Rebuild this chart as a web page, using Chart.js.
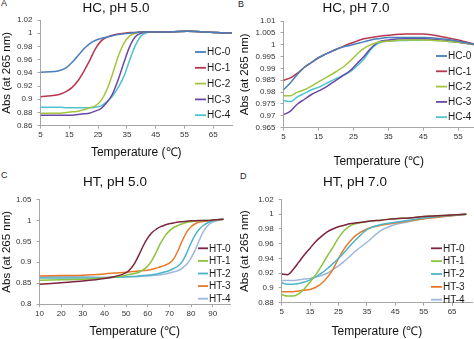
<!DOCTYPE html>
<html>
<head>
<meta charset="utf-8">
<script src="https://cdn.jsdelivr.net/npm/chart.js@4.4.1/dist/chart.umd.min.js"></script>
<style>
  html, body { margin: 0; padding: 0; background: #fff; }
  body { position: relative; width: 474px; height: 339px; overflow: hidden; font-family: "Liberation Sans", Arial, sans-serif; }
  canvas { position: absolute; }
  .tag { position: absolute; font-size: 9px; color: #222; }
</style>
</head>
<body>
<div class="tag" style="left:1px;top:-2px">A</div>
<div class="tag" style="left:238px;top:-1px">B</div>
<div class="tag" style="left:1px;top:170px">C</div>
<div class="tag" style="left:240px;top:171px">D</div>
<canvas id="chartA" width="244" height="170" style="left:0px;top:0px"></canvas>
<canvas id="chartB" width="242" height="170" style="left:238px;top:0px"></canvas>
<canvas id="chartC" width="244" height="169" style="left:0px;top:170px"></canvas>
<canvas id="chartD" width="245" height="169" style="left:238px;top:170px"></canvas>
<script>
// ---- data ----
const hcLabels = ["HC-0", "HC-1", "HC-2", "HC-3", "HC-4"];
const htLabels = ["HT-0", "HT-1", "HT-2", "HT-3", "HT-4"];
const hcColors = ["#4a7ebb", "#b8364d", "#a4c43c", "#6a48a8", "#4ec3cf"];
const htColors = ["#7d2440", "#8cc43e", "#4bb4c6", "#e8792a", "#9db8dc"];

// A: HC, pH 5.0
const tempsA = [5, 10, 12, 14, 16, 18, 20, 22, 24, 26, 28, 30, 32, 34, 36, 38, 40, 42, 44, 50, 56, 62, 66, 72];
const hc0A = [0.941, 0.942, 0.944, 0.948, 0.956, 0.966, 0.976, 0.984, 0.989, 0.992, 0.994, 0.996, 0.998, 0.999, 1.0, 1.001, 1.002, 1.002, 1.002, 1.002, 1.003, 1.002, 1.001, 1.0];
const hc1A = [0.904, 0.906, 0.908, 0.912, 0.918, 0.928, 0.942, 0.958, 0.976, 0.988, 0.994, 0.997, 0.999, 1.0, 1.001, 1.001, 1.002, 1.002, 1.002, 1.002, 1.003, 1.002, 1.001, 1.0];
const hc2A = [0.879, 0.879, 0.879, 0.880, 0.881, 0.882, 0.884, 0.887, 0.890, 0.898, 0.914, 0.938, 0.965, 0.985, 0.996, 1.0, 1.002, 1.002, 1.002, 1.002, 1.003, 1.002, 1.001, 1.0];
const hc3A = [0.876, 0.876, 0.876, 0.876, 0.876, 0.877, 0.878, 0.879, 0.882, 0.886, 0.895, 0.908, 0.930, 0.956, 0.980, 0.995, 1.0, 1.002, 1.002, 1.002, 1.003, 1.002, 1.001, 1.0];
const hc4A = [0.888, 0.888, 0.888, 0.887, 0.887, 0.887, 0.887, 0.887, 0.888, 0.890, 0.896, 0.905, 0.918, 0.935, 0.960, 0.982, 0.996, 1.001, 1.002, 1.002, 1.003, 1.002, 1.001, 1.0];
const xTicksA = [5, 15, 25, 35, 45, 55, 65];
const yTicksA = [0.86, 0.88, 0.9, 0.92, 0.94, 0.96, 0.98, 1, 1.02];

// B: HC, pH 7.0
const tempsB = [5, 7, 9, 11, 13, 15, 17, 20, 22, 24, 26, 28, 30, 32, 35, 40, 45, 50, 55, 60];
const hc0B = [0.981, 0.984, 0.9875, 0.9905, 0.9925, 0.9945, 0.996, 0.998, 0.999, 0.9997, 1.0005, 1.0012, 1.002, 1.0025, 1.003, 1.003, 1.003, 1.0025, 1.0015, 1.0];
const hc1B = [0.985, 0.986, 0.988, 0.9905, 0.9925, 0.9945, 0.996, 0.998, 0.9992, 1.0005, 1.0015, 1.0025, 1.003, 1.0035, 1.004, 1.0045, 1.0045, 1.0035, 1.002, 1.0];
const hc2B = [0.9785, 0.9785, 0.98, 0.981, 0.9825, 0.9843, 0.986, 0.9886, 0.9905, 0.993, 0.996, 0.9985, 1.0, 1.001, 1.0015, 1.002, 1.002, 1.0017, 1.001, 1.0];
const hc3B = [0.9705, 0.972, 0.975, 0.977, 0.979, 0.9805, 0.982, 0.985, 0.987, 0.989, 0.992, 0.995, 0.9985, 1.001, 1.002, 1.0025, 1.0025, 1.002, 1.001, 1.0];
const hc4B = [0.9765, 0.976, 0.978, 0.9795, 0.981, 0.982, 0.9835, 0.9857, 0.987, 0.9885, 0.991, 0.994, 0.998, 1.0005, 1.0015, 1.0018, 1.002, 1.0017, 1.001, 1.0];
const xTicksB = [5, 15, 25, 35, 45, 55];
const yTicksB = [0.965, 0.97, 0.975, 0.98, 0.985, 0.99, 0.995, 1, 1.005, 1.01];

// C: HT, pH 5.0
const tempsC = [10, 20, 30, 40, 45, 50, 52, 54, 56, 58, 60, 62, 64, 66, 68, 70, 72, 74, 76, 78, 80, 82, 84, 86, 88, 90, 95];
const ht0C = [0.847, 0.851, 0.855, 0.861, 0.866, 0.875, 0.884, 0.898, 0.918, 0.940, 0.958, 0.971, 0.979, 0.985, 0.989, 0.992, 0.994, 0.996, 0.997, 0.998, 0.999, 0.999, 1.0, 1.0, 1.0, 1.001, 1.003];
const ht1C = [0.857, 0.858, 0.859, 0.862, 0.865, 0.869, 0.871, 0.873, 0.876, 0.882, 0.891, 0.905, 0.925, 0.946, 0.963, 0.975, 0.983, 0.988, 0.992, 0.995, 0.997, 0.998, 0.999, 1.0, 1.0, 1.001, 1.003];
const ht2C = [0.862, 0.862, 0.862, 0.863, 0.864, 0.865, 0.866, 0.866, 0.867, 0.868, 0.869, 0.870, 0.872, 0.874, 0.877, 0.880, 0.885, 0.891, 0.902, 0.922, 0.946, 0.966, 0.980, 0.989, 0.995, 0.999, 1.003];
const ht3C = [0.867, 0.868, 0.869, 0.872, 0.874, 0.876, 0.877, 0.878, 0.879, 0.880, 0.881, 0.883, 0.886, 0.889, 0.893, 0.898, 0.908, 0.928, 0.952, 0.972, 0.985, 0.992, 0.996, 0.998, 0.999, 1.0, 1.003];
const ht4C = [0.865, 0.865, 0.865, 0.864, 0.865, 0.865, 0.865, 0.866, 0.866, 0.867, 0.867, 0.868, 0.869, 0.870, 0.872, 0.874, 0.877, 0.880, 0.886, 0.895, 0.910, 0.930, 0.955, 0.976, 0.989, 0.996, 1.003];
const xTicksC = [10, 20, 30, 40, 50, 60, 70, 80, 90];
const yTicksC = [0.8, 0.85, 0.9, 0.95, 1, 1.05];

// D: HT, pH 7.0
const tempsD = [5, 7, 9, 11, 13, 15, 17, 19, 21, 23, 25, 27, 29, 31, 35, 40, 45, 50, 55, 60, 70];
const ht0D = [0.919, 0.918, 0.925, 0.935, 0.945, 0.954, 0.963, 0.970, 0.976, 0.980, 0.983, 0.985, 0.987, 0.988, 0.990, 0.992, 0.994, 0.995, 0.997, 0.998, 1.0];
const ht1D = [0.891, 0.889, 0.889, 0.892, 0.899, 0.908, 0.918, 0.930, 0.943, 0.955, 0.968, 0.978, 0.984, 0.987, 0.990, 0.992, 0.994, 0.995, 0.997, 0.998, 1.0];
const ht2D = [0.907, 0.905, 0.905, 0.906, 0.908, 0.911, 0.915, 0.920, 0.926, 0.933, 0.940, 0.948, 0.957, 0.965, 0.979, 0.986, 0.989, 0.992, 0.995, 0.997, 1.0];
const ht3D = [0.895, 0.895, 0.895, 0.896, 0.897, 0.898, 0.901, 0.906, 0.914, 0.925, 0.940, 0.953, 0.963, 0.971, 0.980, 0.985, 0.988, 0.991, 0.994, 0.996, 1.0];
const ht4D = [0.910, 0.910, 0.910, 0.911, 0.912, 0.913, 0.915, 0.917, 0.920, 0.925, 0.930, 0.936, 0.943, 0.950, 0.962, 0.978, 0.986, 0.990, 0.994, 0.997, 1.0];
const xTicksD = [5, 15, 25, 35, 45, 55, 65];
const yTicksD = [0.88, 0.9, 0.92, 0.94, 0.96, 0.98, 1, 1.02];

const FONT = '"Liberation Sans", Arial, sans-serif';
const TITLE_SIZE = 13.5;

// small legend drawn inside the plot, like the Excel originals
const insetLegend = {
    id: 'insetLegend',
    afterDraw(chart, args, opts) {
        const ctx = chart.ctx;
        ctx.save();
        ctx.font = opts.size + 'px ' + FONT;
        ctx.textBaseline = 'middle';
        ctx.textAlign = 'left';
        chart.data.datasets.forEach((ds, i) => {
            const y = opts.y + i * opts.gap;
            ctx.strokeStyle = ds.borderColor;
            ctx.lineWidth = 1.8;
            ctx.beginPath();
            ctx.moveTo(opts.x, y);
            ctx.lineTo(opts.x + opts.len, y);
            ctx.stroke();
            ctx.fillStyle = '#1a1a1a';
            ctx.fillText(ds.label, opts.x + opts.len + 1, y + 0.5);
        });
        ctx.restore();
    }
};

function fmt(v) {
    return String(parseFloat(Number(v).toFixed(4)));
}

function makePanel(canvasId, p) {
    const ctx = document.getElementById(canvasId);
    const W = ctx.width, H = ctx.height;
    return new Chart(ctx, {
        type: 'line',
        data: {
            datasets: p.series.map((vals, i) => ({
                label: p.labels[i],
                data: p.temps.map((t, j) => ({ x: t, y: vals[j] })),
                borderColor: p.colors[i],
                borderWidth: 1.5,
                pointRadius: 0,
                fill: false,
                cubicInterpolationMode: 'monotone'
            }))
        },
        options: {
            responsive: false,
            animation: false,
            layout: { padding: { left: 0, top: 0, bottom: 0, right: W - p.area.right } },
            plugins: {
                legend: { display: false },
                tooltip: { enabled: false },
                title: {
                    display: true,
                    text: p.title,
                    color: '#111',
                    font: { family: FONT, size: TITLE_SIZE, weight: 'normal' },
                    padding: { top: p.titleTop, bottom: p.area.top - p.titleTop - TITLE_SIZE * 1.2 }
                },
                insetLegend: p.legend
            },
            scales: {
                x: {
                    type: 'linear',
                    min: p.xMin,
                    max: p.xMax,
                    afterBuildTicks: (s) => { s.ticks = p.xTicks.map(v => ({ value: v })); },
                    afterFit: (s) => { s.height = H - p.area.bottom; },
                    grid: { drawOnChartArea: false, drawTicks: true, tickLength: 3, color: '#a6a6a6' },
                    border: { color: '#a6a6a6', width: 1 },
                    ticks: { font: { family: FONT, size: 8 }, color: '#333', padding: 1.5, maxRotation: 0, autoSkip: false, callback: fmt },
                    title: {
                        display: true,
                        text: 'Temperature (\u2103)',
                        color: '#111',
                        font: { family: FONT, size: 12 },
                        padding: { top: 0, bottom: p.xTitlePad }
                    }
                },
                y: {
                    type: 'linear',
                    min: p.yTicks[0],
                    max: p.yTicks[p.yTicks.length - 1],
                    afterBuildTicks: (s) => { s.ticks = p.yTicks.map(v => ({ value: v })); },
                    afterFit: (s) => { s.width = p.area.left; },
                    grid: { drawOnChartArea: false, drawTicks: true, tickLength: 3, color: '#a6a6a6' },
                    border: { color: '#a6a6a6', width: 1 },
                    ticks: { font: { family: FONT, size: 8 }, color: '#333', padding: 5, autoSkip: false, callback: fmt },
                    title: {
                        display: true,
                        text: 'Abs (at 265 nm)',
                        color: '#111',
                        font: { family: FONT, size: 11.5 },
                        padding: { top: 0, bottom: 0 }
                    }
                }
            }
        },
        plugins: [insetLegend]
    });
}

const charts = {};

charts.A = makePanel('chartA', {
    title: 'HC, pH 5.0', titleTop: 0,
    temps: tempsA, series: [hc0A, hc1A, hc2A, hc3A, hc4A],
    labels: hcLabels, colors: hcColors,
    xMin: 5, xMax: 71.5, xTicks: xTicksA, yTicks: yTicksA,
    area: { left: 40.5, right: 232, top: 20, bottom: 125.7 },
    xTitlePad: 10,
    legend: { x: 195, y: 52, gap: 15.8, len: 11, size: 10 }
});

charts.B = makePanel('chartB', {
    title: 'HC, pH 7.0', titleTop: 0,
    temps: tempsB, series: [hc0B, hc1B, hc2B, hc3B, hc4B],
    labels: hcLabels, colors: hcColors,
    xMin: 5, xMax: 59.5, xTicks: xTicksB, yTicks: yTicksB,
    area: { left: 45.5, right: 236, top: 21, bottom: 127.7 },
    xTitlePad: 1,
    legend: { x: 198, y: 56, gap: 15.3, len: 11, size: 10 }
});

charts.C = makePanel('chartC', {
    title: 'HT, pH 5.0', titleTop: 4,
    temps: tempsC, series: [ht0C, ht1C, ht2C, ht3C, ht4C],
    labels: htLabels, colors: htColors,
    xMin: 10, xMax: 98, xTicks: xTicksC, yTicks: yTicksC,
    area: { left: 39.5, right: 230, top: 29.5, bottom: 134 },
    xTitlePad: 0,
    legend: { x: 198, y: 78.3, gap: 12.6, len: 10, size: 10 }
});

charts.D = makePanel('chartD', {
    title: 'HT, pH 7.0', titleTop: 4.5,
    temps: tempsD, series: [ht0D, ht1D, ht2D, ht3D, ht4D],
    labels: htLabels, colors: htColors,
    xMin: 5, xMax: 72, xTicks: xTicksD, yTicks: yTicksD,
    area: { left: 43.7, right: 234, top: 29.5, bottom: 132.7 },
    xTitlePad: 0,
    legend: { x: 193, y: 78.3, gap: 12.85, len: 11, size: 10 }
});
</script>
</body>
</html>
